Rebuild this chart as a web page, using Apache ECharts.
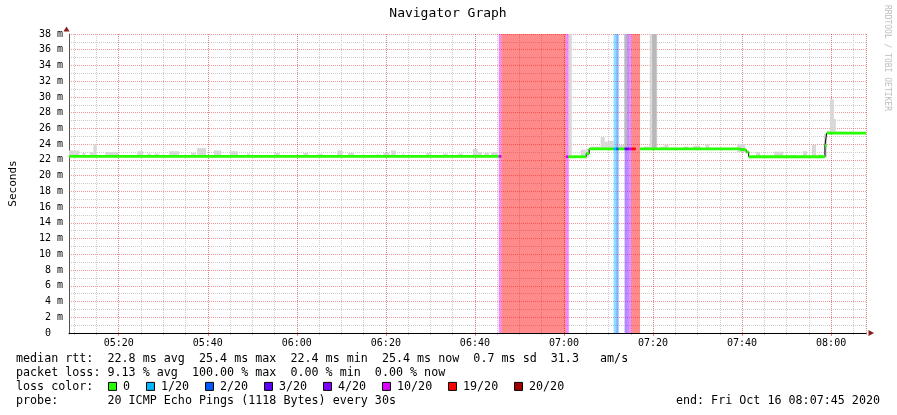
<!DOCTYPE html>
<html><head><meta charset="utf-8">
<script src="https://cdn.jsdelivr.net/npm/echarts@6/dist/echarts.min.js"></script>
<style>html,body{margin:0;padding:0;background:#fff}#c{width:897px;height:415px}</style>
</head><body><div id="c"></div><script>
// ---------- data ----------
const axisStart = '05:08:50';
const axisEnd = '08:07:50';
const yMin = 0, yMax = 38, yStep = 2;

const lossLevels = ['0', '1/20', '2/20', '3/20', '4/20', '10/20', '19/20', '20/20'];
const lossColors = ['#26ff00', '#00b8ff', '#0059ff', '#5e00ff', '#7e00ff', '#dd00ff', '#ff0000', '#a10000'];

// loss background bands: [from, to, loss level]
const lossBands = [
  ['06:45:21', '06:45:56', '10/20'],
  ['06:45:56', '07:00:25', '19/20'],
  ['07:00:25', '07:01:05', '10/20'],
  ['07:11:09', '07:11:43', '1/20'],
  ['07:11:43', '07:12:17', '2/20'],
  ['07:13:37', '07:14:11', '3/20'],
  ['07:14:11', '07:14:44', '4/20'],
  ['07:14:44', '07:15:11', '10/20'],
  ['07:15:11', '07:17:05', '19/20']
];

// median rtt (ms): [from, to, value, loss level]
const medianRtt = [
  ['05:08:50', '06:45:21', 22.45, '0'],
  ['06:45:21', '06:45:56', 22.45, '10/20'],
  ['07:00:25', '07:00:58', 22.4, '10/20'],
  ['07:00:58', '07:05:00', 22.4, '0'],
  ['07:05:00', '07:05:40', 22.8, '0'],
  ['07:05:40', '07:11:09', 23.4, '0'],
  ['07:11:09', '07:11:43', 23.4, '1/20'],
  ['07:11:43', '07:12:17', 23.4, '2/20'],
  ['07:12:17', '07:13:37', 23.4, '0'],
  ['07:13:37', '07:14:11', 23.4, '3/20'],
  ['07:14:11', '07:14:44', 23.4, '4/20'],
  ['07:14:44', '07:15:11', 23.4, '10/20'],
  ['07:15:11', '07:16:05', 23.4, '19/20'],
  ['07:17:05', '07:39:35', 23.4, '0'],
  ['07:39:35', '07:40:56', 23.3, '0'],
  ['07:40:56', '07:41:29', 23.0, '0'],
  ['07:41:29', '07:58:37', 22.4, '0'],
  ['07:58:37', '07:59:00', 23.8, '0'],
  ['07:59:00', '08:07:50', 25.4, '0']
];

// smoke (ping spread, ms): [from, to, low, high]
const smoke = [
  ['05:08:50', '05:11:11', 22.4, 23.2], ['05:11:51', '05:12:32', 22.4, 22.9],
  ['05:13:35', '05:14:19', 22.4, 23.0], ['05:14:19', '05:14:59', 22.4, 24.0],
  ['05:17:00', '05:19:55', 22.4, 23.0], ['05:24:10', '05:25:30', 22.4, 23.1],
  ['05:26:24', '05:27:18', 22.4, 22.8], ['05:27:58', '05:29:05', 22.4, 22.8],
  ['05:31:20', '05:33:34', 22.4, 23.1], ['05:36:15', '05:37:22', 22.4, 22.9],
  ['05:37:36', '05:39:37', 22.4, 23.5], ['05:41:24', '05:42:58', 22.4, 23.2],
  ['05:44:59', '05:46:46', 22.4, 23.1], ['05:48:47', '05:49:28', 22.4, 22.8],
  ['05:55:03', '05:56:10', 22.4, 22.9], ['06:01:29', '06:02:36', 22.4, 22.9],
  ['06:04:37', '06:05:48', 22.4, 22.8], ['06:09:05', '06:10:17', 22.4, 23.2],
  ['06:11:33', '06:12:48', 22.4, 22.9], ['06:17:40', '06:18:47', 22.4, 22.7],
  ['06:19:27', '06:20:48', 22.4, 22.9], ['06:21:11', '06:22:12', 22.4, 23.2],
  ['06:23:42', '06:24:09', 22.4, 22.8], ['06:29:05', '06:30:12', 22.4, 22.9],
  ['06:32:49', '06:33:56', 22.4, 22.8], ['06:36:10', '06:37:18', 22.4, 22.8],
  ['06:39:32', '06:40:39', 22.4, 23.4], ['06:40:39', '06:41:37', 22.4, 23.0],
  ['06:42:04', '06:43:11', 22.4, 22.9], ['06:43:38', '06:45:08', 22.4, 23.0],
  ['07:01:05', '07:01:45', 22.3, 38.0], ['07:03:46', '07:04:53', 22.3, 23.3],
  ['07:05:00', '07:05:40', 22.3, 23.4], ['07:06:01', '07:08:15', 23.3, 23.7],
  ['07:08:15', '07:09:09', 23.3, 24.9], ['07:09:09', '07:09:49', 23.3, 24.3],
  ['07:09:49', '07:11:09', 23.3, 24.4], ['07:12:17', '07:13:37', 23.3, 23.9],
  ['07:17:52', '07:19:17', 23.3, 23.7], ['07:19:17', '07:20:56', 23.3, 38.0],
  ['07:21:41', '07:22:34', 23.3, 23.7], ['07:22:34', '07:23:28', 23.3, 24.0],
  ['07:26:50', '07:27:57', 23.3, 23.7], ['07:29:04', '07:30:38', 23.3, 23.8],
  ['07:31:45', '07:32:39', 23.3, 24.0], ['07:38:55', '07:40:42', 23.0, 24.0],
  ['07:43:10', '07:44:04', 22.3, 23.0], ['07:47:12', '07:49:13', 22.3, 23.05],
  ['07:50:06', '07:52:07', 22.3, 22.6], ['07:53:41', '07:54:35', 22.3, 23.1],
  ['07:55:42', '07:56:36', 22.3, 23.9], ['07:57:03', '07:58:10', 22.3, 22.7],
  ['07:58:23', '07:59:04', 22.3, 25.3], ['07:59:04', '08:00:11', 25.3, 25.7],
  ['07:59:44', '08:00:38', 25.3, 29.7], ['08:00:38', '08:01:04', 25.3, 27.2],
  ['08:01:04', '08:02:25', 25.3, 25.6], ['08:02:25', '08:03:32', 25.3, 25.6],
  ['08:03:59', '08:05:06', 25.3, 25.6]
];
// denser smoke core
const smokeCore = [
  ['07:13:37', '07:14:11', 23.5, 38.0],
  ['07:19:49', '07:20:47', 23.5, 38.0]
];

const titleText = 'Navigator Graph';
const rttStats = ['22.8 ms avg', '25.4 ms max', '22.4 ms min', '25.4 ms now', '0.7 ms sd', '31.3   am/s'];
const lossStats = ['9.13 % avg', '100.00 % max', '0.00 % min', '0.00 % now'];
const probeText = '20 ICMP Echo Pings (1118 Bytes) every 30s';
const endText = 'end: Fri Oct 16 08:07:45 2020';

// ---------- helpers ----------
function ts(hms) { const p = hms.split(':').map(Number); return new Date(2020, 9, 16, p[0], p[1], p[2]).getTime(); }
function pad(n) { return (n < 10 ? '0' : '') + n; }
const lvl = l => lossLevels.indexOf(l);
const MONO = 'DejaVu Sans Mono';

const bandData = lossBands.map(b => [ts(b[0]), ts(b[1]), lvl(b[2])]);
const segData = medianRtt.map(s => [ts(s[0]), ts(s[1]), s[2], lvl(s[3])]);
const smokeData = smoke.map(s => [ts(s[0]), ts(s[1]), s[2], s[3]]);
const coreData = smokeCore.map(s => [ts(s[0]), ts(s[1]), s[2], s[3]]);
const blackData = [];
medianRtt.forEach((s, i) => {
  if (i > 0 && medianRtt[i - 1][1] !== s[0]) blackData.push(null);
  blackData.push([ts(s[0]), s[2]]);
  blackData.push([ts(s[1]), s[2]]);
});

function rectItem(fill) {
  return function (params, api) {
    const a = api.coord([api.value(0), api.value(3)]);
    const b = api.coord([api.value(1), api.value(2)]);
    return { type: 'rect', shape: { x: a[0], y: a[1], width: b[0] - a[0], height: b[1] - a[1] }, style: { fill: fill } };
  };
}

// ---------- graphics (texts) ----------
const graphics = [];
graphics.push({ type: 'text', x: 448, y: 14, style: { text: titleText, fontFamily: MONO, fontSize: 13, fill: '#000', align: 'center', verticalAlign: 'middle' } });
graphics.push({ type: 'text', x: 887, y: 5, rotation: -Math.PI / 2, style: { text: 'RRDTOOL / TOBI OETIKER', fontFamily: MONO, fontSize: 8, fill: '#bdbdbd', align: 'left', verticalAlign: 'middle' } });
graphics.push({ type: 'polygon', shape: { points: [[63.5, 31.5], [69.5, 31.5], [66.5, 26.5]] }, style: { fill: '#8b1a1a' } });
graphics.push({ type: 'polygon', shape: { points: [[868.5, 330], [868.5, 336], [874, 333]] }, style: { fill: '#8b1a1a' } });
const rowY = [359.3, 373.1, 386.9, 400.7];
const lx = 16, fs = 11.7;
function txt(x, y, t, align) { graphics.push({ type: 'text', x: x, y: y, style: { text: t, fontFamily: MONO, fontSize: fs, fill: '#000', align: align || 'left', verticalAlign: 'middle' } }); }
txt(lx, rowY[0], 'median rtt:  ' + rttStats.join('  '));
txt(lx, rowY[1], 'packet loss: ' + lossStats.join('  '));
txt(lx, rowY[2], 'loss color:');
let bx = 108;
lossLevels.forEach((l, i) => {
  graphics.push({ type: 'rect', shape: { x: bx + 0.5, y: rowY[2] - 4.5, width: 8, height: 8 }, style: { fill: lossColors[i], stroke: '#000', lineWidth: 1 } });
  txt(bx + 15, rowY[2], l);
  bx = bx + 15 + l.length * 7 + 16;
});
txt(lx, rowY[3], 'probe:       ' + probeText);
txt(880, rowY[3], endText, 'right');

// ---------- chart ----------
const chart = echarts.init(document.getElementById('c'), null, { renderer: 'canvas' });
chart.setOption({
  animation: false,
  backgroundColor: '#fff',
  grid: { left: 66, right: 31, top: 34, bottom: 82, containLabel: false },
  xAxis: [
    {
      type: 'time', position: 'bottom', min: ts(axisStart), max: ts(axisEnd), splitNumber: 32,
      axisLine: { show: false }, axisLabel: { show: false },
      axisTick: { show: true, length: 2, lineStyle: { color: '#c8c8c8' } },
      splitLine: { show: true, lineStyle: { color: '#cdcdcd', type: [1, 1], width: 1 } }
    },
    {
      type: 'time', position: 'bottom', min: ts(axisStart), max: ts(axisEnd), splitNumber: 8, z: 1,
      axisLine: { show: true, lineStyle: { color: '#000', width: 1 } },
      axisTick: { show: true, length: 3, lineStyle: { color: 'rgba(230,0,0,0.45)' } },
      axisLabel: {
        fontFamily: MONO, fontSize: 10, color: '#000', margin: 5, hideOverlap: false,
        formatter: v => { const d = new Date(v); return pad(d.getHours()) + ':' + pad(d.getMinutes()); }
      },
      splitLine: { show: true, lineStyle: { color: 'rgba(230,0,0,0.36)', type: [1, 1], width: 1 } }
    }
  ],
  yAxis: {
    type: 'value', min: yMin, max: yMax, interval: yStep, z: 1,
    name: 'Seconds', nameLocation: 'middle', nameGap: 50, nameRotate: 90,
    nameTextStyle: { fontFamily: MONO, fontSize: 11, color: '#000' },
    axisLine: { show: true, lineStyle: { color: '#555', width: 1 } },
    axisTick: { show: false },
    axisLabel: { fontFamily: MONO, fontSize: 10, color: '#000', margin: 6, formatter: v => v === 0 ? '0  ' : v + ' m' },
    splitLine: { show: true, lineStyle: { color: 'rgba(230,0,0,0.4)', type: [1, 1], width: 1 } },
    minorTick: { show: false, splitNumber: 2 },
    minorSplitLine: { show: true, lineStyle: { color: '#cdcdcd', type: [1, 1], width: 1 } }
  },
  graphic: graphics,
  series: [
    {
      type: 'custom', name: 'loss', xAxisIndex: 1, z: 2, silent: true, clip: true,
      data: bandData, encode: { x: [0, 1] },
      renderItem: (params, api) => {
        const a = api.coord([api.value(0), 0]);
        const b = api.coord([api.value(1), 0]);
        const cs = params.coordSys;
        return { type: 'rect', shape: { x: a[0], y: cs.y, width: b[0] - a[0], height: cs.height },
          style: { fill: echarts.color.modifyAlpha(lossColors[api.value(2)], 0.46) } };
      }
    },
    { type: 'custom', name: 'smoke', xAxisIndex: 1, z: 3, silent: true, clip: true, data: smokeData, encode: { x: [0, 1], y: [2, 3] }, renderItem: rectItem('#d8d8d8') },
    { type: 'custom', name: 'smokeCore', xAxisIndex: 1, z: 3, silent: true, clip: true, data: coreData, encode: { x: [0, 1], y: [2, 3] }, renderItem: rectItem('#b8b8b8') },
    { type: 'line', name: 'step', xAxisIndex: 1, z: 4, silent: true, symbol: 'none', connectNulls: false, data: blackData, lineStyle: { color: '#000', width: 1 } },
    {
      type: 'custom', name: 'median', xAxisIndex: 1, z: 5, silent: true, clip: true,
      data: segData, encode: { x: [0, 1], y: 2 },
      renderItem: (params, api) => {
        const a = api.coord([api.value(0), api.value(2)]);
        const b = api.coord([api.value(1), api.value(2)]);
        return { type: 'line', shape: { x1: a[0], y1: a[1], x2: b[0], y2: b[1] },
          style: { stroke: lossColors[api.value(3)], lineWidth: 2.8, lineCap: 'butt' } };
      }
    }
  ]
});
</script></body></html>
